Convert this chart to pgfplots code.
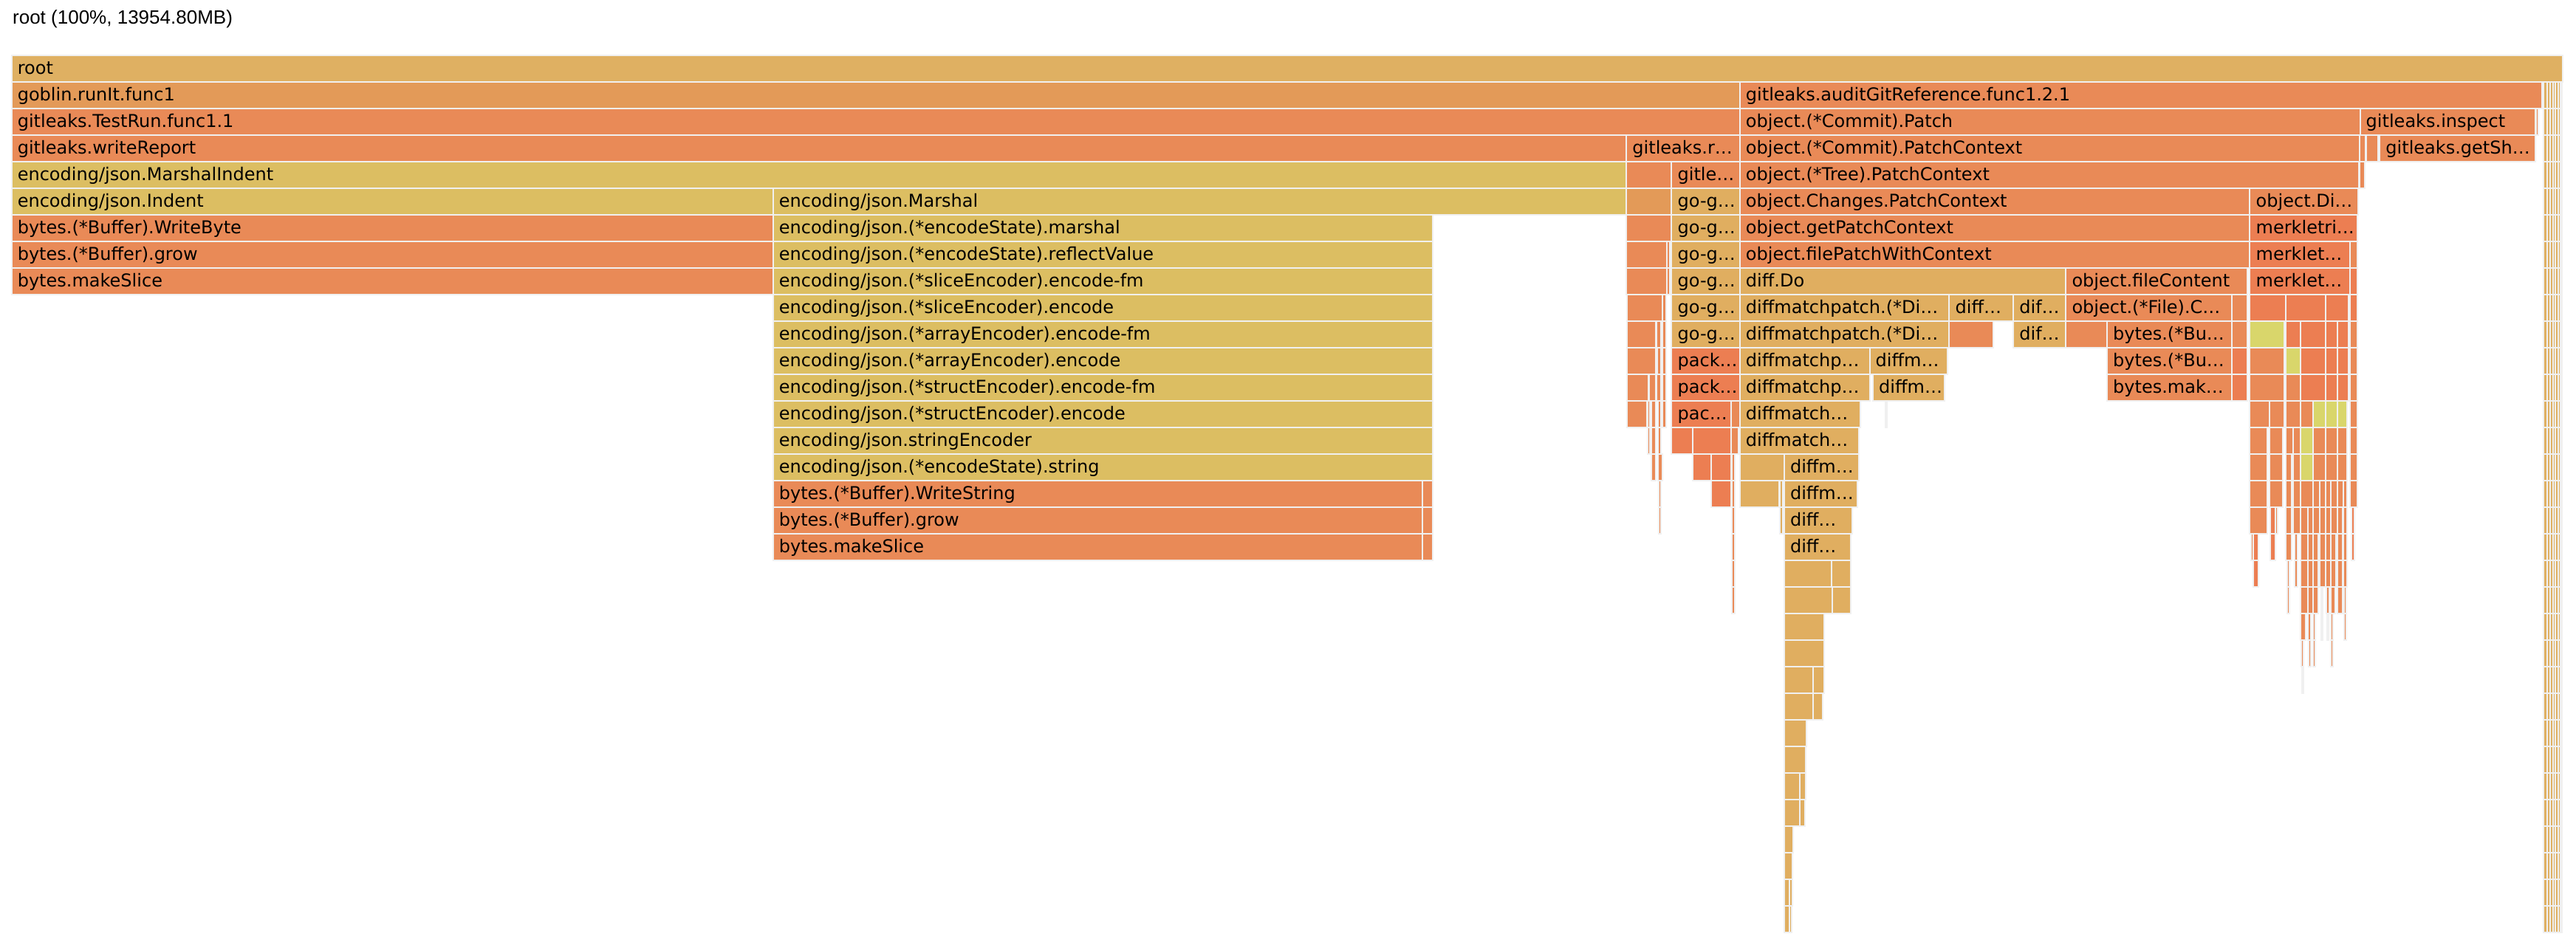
\documentclass[border=0pt]{standalone}
\usepackage{pgfplots}
\pgfplotsset{compat=1.18}
\usepackage{fontspec}
\setmainfont{DejaVu Sans}
\newfontfamily\titlefont{Liberation Sans}

\definecolor{cRoot}{HTML}{DFB062}
\definecolor{cGob}{HTML}{E39A58}
\definecolor{cOr}{HTML}{E98A57}
\definecolor{cJs}{HTML}{DCBE62}
\definecolor{cRed}{HTML}{EC7E52}
\definecolor{cSand}{HTML}{E0AE60}
\definecolor{cLime}{HTML}{D9D66B}
\definecolor{cGap}{HTML}{F0F0F0}

\tikzset{
  fgbox/.style={draw=cGap, line width=0.57pt},
  fglab/.style={anchor=base west, inner sep=0pt, xshift=0.075cm,
    font=\fontsize{6.83pt}{8pt}\selectfont, text=black},
}

% one frame: x0, x1 (screen units), row (0 = root), colour
\newcommand\fb[4]{%
  \edef\tmp{\noexpand\addplot[fgbox,fill=#4] coordinates
    {(#1,#3) (#2,#3) (#2,\the\numexpr#3+1\relax) (#1,\the\numexpr#3+1\relax)} -- cycle;}%
  \tmp}
% frame with its name
\newcommand\fr[5]{%
  \fb{#1}{#2}{#3}{#4}%
  \edef\tmp{\noexpand\node[fglab] at (axis cs:#1,#3.72) {#5};}%
  \tmp}

\begin{document}
\begin{tikzpicture}
\begin{axis}[
    at={(0,0)}, anchor=south west,
    scale only axis, width=34.88cm, height=12.8cm,
    hide axis, clip=false,
    xmin=0, xmax=1568,
    ymin=-2.0833, ymax=33.4722, y dir=reverse,
]
\node[anchor=base west, inner sep=0pt, font=\titlefont\fontsize{7.4pt}{9pt}\selectfont]
  at (axis cs:7.4,-1.19) {root (100\%, 13954.80MB)};

% row 0-4
\fr{7}{1560}{0}{cRoot}{root}
\fr{7}{1059}{1}{cGob}{goblin.runIt.func1}
\fr{1059}{1547.5}{1}{cOr}{gitleaks.auditGitReference.func1.2.1}
\fr{7}{1059}{2}{cOr}{gitleaks.TestRun.func1.1}
\fr{1059}{1436.5}{2}{cOr}{object.(*Commit).Patch}
\fr{1436.5}{1543.3}{2}{cOr}{gitleaks.inspect}
\fb{1543.5}{1545.2}{2}{cOr}
\fr{7}{990}{3}{cOr}{gitleaks.writeReport}
\fr{990}{1059}{3}{cOr}{gitleaks.r…}
\fr{1059}{1436.3}{3}{cOr}{object.(*Commit).PatchContext}
\fb{1436.3}{1439.8}{3}{cOr}
\fb{1440.2}{1447.5}{3}{cOr}
\fr{1448.5}{1543.3}{3}{cOr}{gitleaks.getSh…}
\fr{7}{990}{4}{cJs}{encoding/json.MarshalIndent}
\fb{990}{1017.5}{4}{cOr}
\fr{1017.5}{1059}{4}{cOr}{gitle…}
\fr{1059}{1436}{4}{cOr}{object.(*Tree).PatchContext}
\fb{1436.3}{1439.5}{4}{cOr}

% row 5-8
\fr{7}{470.5}{5}{cJs}{encoding/json.Indent}
\fr{470.5}{990}{5}{cJs}{encoding/json.Marshal}
\fb{990}{1017.5}{5}{cGob}
\fr{1017.5}{1059}{5}{cSand}{go-g…}
\fr{1059}{1369.5}{5}{cOr}{object.Changes.PatchContext}
\fr{1369.5}{1435.3}{5}{cOr}{object.Di…}
\fr{7}{470.5}{6}{cOr}{bytes.(*Buffer).WriteByte}
\fr{470.5}{872}{6}{cJs}{encoding/json.(*encodeState).marshal}
\fb{990}{1017.5}{6}{cOr}
\fr{1017.5}{1059}{6}{cSand}{go-g…}
\fr{1059}{1369.5}{6}{cOr}{object.getPatchContext}
\fr{1369.5}{1435}{6}{cRed}{merkletri…}
\fr{7}{470.5}{7}{cOr}{bytes.(*Buffer).grow}
\fr{470.5}{872}{7}{cJs}{encoding/json.(*encodeState).reflectValue}
\fb{990}{1014.5}{7}{cOr}
\fb{1014.5}{1016.5}{7}{cOr}
\fr{1017.5}{1059}{7}{cSand}{go-g…}
\fr{1059}{1369.5}{7}{cOr}{object.filePatchWithContext}
\fr{1369.5}{1430.5}{7}{cRed}{merklet…}
\fb{1430.5}{1435}{7}{cOr}
\fr{7}{470.5}{8}{cOr}{bytes.makeSlice}
\fr{470.5}{872}{8}{cJs}{encoding/json.(*sliceEncoder).encode-fm}
\fb{990}{1014.5}{8}{cOr}
\fb{1014.5}{1016.5}{8}{cOr}
\fr{1017.5}{1059}{8}{cSand}{go-g…}
\fr{1059}{1257.5}{8}{cSand}{diff.Do}
\fr{1257.5}{1368}{8}{cOr}{object.fileContent}
\fr{1369.5}{1430.5}{8}{cRed}{merklet…}
\fb{1430.5}{1435}{8}{cRed}

% row 9-13
\fr{470.5}{872}{9}{cJs}{encoding/json.(*sliceEncoder).encode}
\fb{990.5}{1011.7}{9}{cOr}
\fb{1012}{1014}{9}{cOr}
\fr{1017.5}{1059}{9}{cSand}{go-g…}
\fr{1059}{1186.5}{9}{cSand}{diffmatchpatch.(*Di…}
\fr{1186.5}{1225.5}{9}{cSand}{diff…}
\fr{1225.5}{1257.5}{9}{cSand}{dif…}
\fr{1257.5}{1358.5}{9}{cOr}{object.(*File).C…}
\fb{1358.5}{1368}{9}{cOr}
\fb{1369.5}{1391.2}{9}{cRed}
\fb{1391.2}{1415.7}{9}{cRed}
\fb{1415.7}{1429.7}{9}{cRed}
\fb{1430.5}{1435}{9}{cRed}

\fr{470.5}{872}{10}{cJs}{encoding/json.(*arrayEncoder).encode-fm}
\fb{990.5}{1008}{10}{cOr}
\fb{1008.5}{1011}{10}{cOr}
\fb{1012}{1014}{10}{cOr}
\fr{1017.5}{1059}{10}{cSand}{go-g…}
\fr{1059}{1186.5}{10}{cSand}{diffmatchpatch.(*Di…}
\fb{1186.5}{1213.5}{10}{cOr}
\fr{1225.5}{1257.5}{10}{cSand}{dif…}
\fb{1257.5}{1282.5}{10}{cOr}
\fr{1282.5}{1358.5}{10}{cOr}{bytes.(*Bu…}
\fb{1358.5}{1368}{10}{cOr}
\fb{1369.5}{1390.5}{10}{cLime}
\fb{1391.2}{1400.3}{10}{cRed}
\fb{1400.3}{1415.7}{10}{cRed}
\fb{1415.7}{1422.8}{10}{cRed}
\fb{1422.8}{1429.7}{10}{cRed}
\fb{1430.5}{1435}{10}{cOr}

\fr{470.5}{872}{11}{cJs}{encoding/json.(*arrayEncoder).encode}
\fb{990.5}{1008}{11}{cOr}
\fb{1008.8}{1011}{11}{cOr}
\fb{1012}{1014}{11}{cOr}
\fr{1017.5}{1059}{11}{cRed}{pack…}
\fr{1059}{1138}{11}{cSand}{diffmatchp…}
\fr{1138}{1185.5}{11}{cSand}{diffm…}
\fr{1282.5}{1358.5}{11}{cOr}{bytes.(*Bu…}
\fb{1358.5}{1368}{11}{cRed}
\fb{1369.5}{1390.5}{11}{cOr}
\fb{1391.2}{1400.3}{11}{cLime}
\fb{1400.3}{1415.7}{11}{cRed}
\fb{1415.7}{1422.8}{11}{cRed}
\fb{1422.8}{1429.7}{11}{cRed}
\fb{1430.5}{1435}{11}{cOr}

\fr{470.5}{872}{12}{cJs}{encoding/json.(*structEncoder).encode-fm}
\fb{990.5}{1003.5}{12}{cOr}
\fb{1004}{1008}{12}{cOr}
\fb{1008.5}{1011}{12}{cOr}
\fb{1012}{1014}{12}{cOr}
\fr{1017.5}{1059}{12}{cRed}{pack…}
\fr{1059}{1138}{12}{cSand}{diffmatchp…}
\fr{1140}{1183.5}{12}{cSand}{diffm…}
\fr{1282.5}{1358.5}{12}{cOr}{bytes.mak…}
\fb{1358.5}{1368}{12}{cRed}
\fb{1369.5}{1390.5}{12}{cOr}
\fb{1391.2}{1400.3}{12}{cOr}
\fb{1400.3}{1415.7}{12}{cRed}
\fb{1415.7}{1422.8}{12}{cRed}
\fb{1422.8}{1429.7}{12}{cRed}
\fb{1430.5}{1435}{12}{cOr}

\fr{470.5}{872}{13}{cJs}{encoding/json.(*structEncoder).encode}
\fb{990.5}{1002.3}{13}{cOr}
\fb{1002.8}{1004.2}{13}{cOr}
\fb{1005}{1008}{13}{cOr}
\fb{1009}{1011}{13}{cOr}
\fb{1012}{1014}{13}{cOr}
\fr{1017.5}{1053.5}{13}{cRed}{pac…}
\fb{1053.5}{1059}{13}{cOr}
\fr{1059}{1132.3}{13}{cSand}{diffmatch…}
\fb{1147.5}{1148.7}{13}{cSand}
\fb{1369.5}{1381.6}{13}{cOr}
\fb{1381.6}{1390.5}{13}{cOr}
\fb{1391.2}{1400.3}{13}{cOr}
\fb{1400.3}{1407.8}{13}{cOr}
\fb{1407.8}{1415.7}{13}{cLime}
\fb{1415.7}{1422.8}{13}{cLime}
\fb{1422.8}{1428.8}{13}{cLime}
\fb{1430.5}{1435}{13}{cOr}

% row 14-18
\fr{470.5}{872}{14}{cJs}{encoding/json.stringEncoder}
\fb{1002.8}{1004.2}{14}{cOr}
\fb{1005}{1008}{14}{cOr}
\fb{1009}{1011}{14}{cOr}
\fb{1017.5}{1030.3}{14}{cRed}
\fb{1030.3}{1053.5}{14}{cRed}
\fb{1053.8}{1058}{14}{cOr}
\fr{1059}{1131.5}{14}{cSand}{diffmatch…}
\fb{1369.5}{1380}{14}{cOr}
\fb{1381.6}{1389.7}{14}{cOr}
\fb{1391.2}{1396}{14}{cOr}
\fb{1396}{1400.3}{14}{cOr}
\fb{1400.3}{1407.8}{14}{cLime}
\fb{1407.8}{1415.7}{14}{cOr}
\fb{1415.7}{1422.8}{14}{cOr}
\fb{1422.8}{1428.8}{14}{cOr}
\fb{1430.5}{1435}{14}{cOr}

\fr{470.5}{872}{15}{cJs}{encoding/json.(*encodeState).string}
\fb{1005}{1008}{15}{cOr}
\fb{1009}{1011.7}{15}{cOr}
\fb{1030.3}{1041.7}{15}{cRed}
\fb{1041.7}{1053.5}{15}{cRed}
\fb{1054}{1056}{15}{cOr}
\fb{1059}{1086}{15}{cSand}
\fr{1086}{1131.5}{15}{cSand}{diffm…}
\fb{1369.5}{1380}{15}{cOr}
\fb{1381.6}{1389.7}{15}{cOr}
\fb{1391.2}{1395}{15}{cOr}
\fb{1396}{1400.3}{15}{cOr}
\fb{1400.3}{1407.8}{15}{cLime}
\fb{1407.8}{1415.7}{15}{cOr}
\fb{1415.7}{1422.8}{15}{cOr}
\fb{1422.8}{1428.8}{15}{cOr}
\fb{1430.5}{1435}{15}{cOr}

\fr{470.5}{866}{16}{cOr}{bytes.(*Buffer).WriteString}
\fb{866}{872}{16}{cOr}
\fb{1009.5}{1011}{16}{cOr}
\fb{1041.7}{1053.5}{16}{cRed}
\fb{1054}{1056}{16}{cOr}
\fb{1059}{1083}{16}{cSand}
\fb{1083.5}{1085}{16}{cSand}
\fr{1086}{1130.5}{16}{cSand}{diffm…}
\fb{1369.5}{1380}{16}{cOr}
\fb{1381.6}{1389.7}{16}{cOr}
\fb{1391.2}{1395}{16}{cOr}
\fb{1396}{1400.3}{16}{cOr}
\fb{1400.3}{1407.8}{16}{cOr}
\fb{1407.8}{1412}{16}{cOr}
\fb{1412}{1415.7}{16}{cOr}
\fb{1415.7}{1418.6}{16}{cOr}
\fb{1418.6}{1422.8}{16}{cOr}
\fb{1422.8}{1426.3}{16}{cOr}
\fb{1426.3}{1428.8}{16}{cOr}
\fb{1430.5}{1435}{16}{cOr}

\fr{470.5}{866}{17}{cOr}{bytes.(*Buffer).grow}
\fb{866}{872}{17}{cOr}
\fb{1009.5}{1011}{17}{cOr}
\fb{1054}{1056}{17}{cOr}
\fb{1083.5}{1085}{17}{cSand}
\fr{1086}{1127.5}{17}{cSand}{diff…}
\fb{1369.5}{1380}{17}{cOr}
\fb{1382}{1385}{17}{cRed}
\fb{1385}{1386.5}{17}{cOr}
\fb{1391.2}{1395}{17}{cOr}
\fb{1396}{1400.3}{17}{cOr}
\fb{1400.3}{1404.8}{17}{cOr}
\fb{1404.8}{1407.8}{17}{cOr}
\fb{1407.8}{1412}{17}{cOr}
\fb{1412}{1415.7}{17}{cOr}
\fb{1415.7}{1418.6}{17}{cOr}
\fb{1418.6}{1422.8}{17}{cOr}
\fb{1422.8}{1425.7}{17}{cOr}
\fb{1426.3}{1428.8}{17}{cOr}
\fb{1431.5}{1433.3}{17}{cRed}

\fr{470.5}{866}{18}{cOr}{bytes.makeSlice}
\fb{866}{872}{18}{cOr}
\fb{1054}{1056}{18}{cOr}
\fr{1086}{1126.5}{18}{cSand}{diff…}
\fb{1370.3}{1371.7}{18}{cOr}
\fb{1371.7}{1374.5}{18}{cRed}
\fb{1382}{1385}{18}{cRed}
\fb{1391.2}{1395}{18}{cOr}
\fb{1396.6}{1398.7}{18}{cOr}
\fb{1400.3}{1404.8}{18}{cOr}
\fb{1404.8}{1407.8}{18}{cOr}
\fb{1407.8}{1411}{18}{cOr}
\fb{1412}{1415.7}{18}{cOr}
\fb{1415.7}{1418.6}{18}{cOr}
\fb{1418.6}{1422}{18}{cOr}
\fb{1422.8}{1425.7}{18}{cOr}
\fb{1426.3}{1428.8}{18}{cOr}
\fb{1431.5}{1433.3}{18}{cRed}

% row 19-23
\fb{1054}{1056}{19}{cOr}
\fb{1086}{1115}{19}{cSand}
\fb{1115}{1126.7}{19}{cSand}
\fb{1371.7}{1374.5}{19}{cRed}
\fb{1392}{1393.7}{19}{cOr}
\fb{1396.6}{1398.7}{19}{cOr}
\fb{1400.3}{1404.8}{19}{cOr}
\fb{1404.8}{1407.8}{19}{cOr}
\fb{1407.8}{1411}{19}{cOr}
\fb{1412}{1415.7}{19}{cOr}
\fb{1415.7}{1418.6}{19}{cOr}
\fb{1418.6}{1422}{19}{cOr}
\fb{1422.8}{1425.7}{19}{cOr}
\fb{1426.3}{1428.8}{19}{cOr}

\fb{1054}{1056}{20}{cOr}
\fb{1086}{1115.5}{20}{cSand}
\fb{1115.5}{1126.5}{20}{cSand}
\fb{1392}{1393.7}{20}{cOr}
\fb{1400.3}{1404.8}{20}{cOr}
\fb{1404.8}{1407.8}{20}{cOr}
\fb{1407.8}{1411}{20}{cOr}
\fb{1412.7}{1413.8}{20}{cOr}
\fb{1415.9}{1417.7}{20}{cOr}
\fb{1418.6}{1421.6}{20}{cOr}
\fb{1422.8}{1425.7}{20}{cOr}
\fb{1426.9}{1428.2}{20}{cOr}

\fb{1086}{1110.5}{21}{cSand}
\fb{1400.3}{1403.5}{21}{cOr}
\fb{1405}{1406.8}{21}{cOr}
\fb{1408}{1409.5}{21}{cOr}
\fb{1412.7}{1413.8}{21}{cOr}
\fb{1416.3}{1417.5}{21}{cOr}
\fb{1418.8}{1420.2}{21}{cOr}
\fb{1426.9}{1428.2}{21}{cOr}

\fb{1086}{1110.3}{22}{cSand}
\fb{1400.9}{1402.2}{22}{cOr}
\fb{1405.1}{1406.4}{22}{cOr}
\fb{1408}{1409.5}{22}{cOr}
\fb{1418.8}{1420.2}{22}{cOr}

\fb{1086}{1103.5}{23}{cSand}
\fb{1103.5}{1110.3}{23}{cSand}
\fb{1401}{1402}{23}{cOr}

% the long diff tail
\fb{1086}{1103.5}{24}{cSand}
\fb{1103.5}{1109.5}{24}{cSand}
\fb{1086}{1099.5}{25}{cSand}
\fb{1086}{1099.3}{26}{cSand}
\fb{1086}{1095.3}{27}{cSand}
\fb{1095.3}{1099.3}{27}{cSand}
\fb{1086}{1095.3}{28}{cSand}
\fb{1095.3}{1098.7}{28}{cSand}
\fb{1086}{1091.3}{29}{cSand}
\fb{1086}{1091}{30}{cSand}
\fb{1086}{1089.2}{31}{cSand}
\fb{1089.2}{1091}{31}{cSand}
\fb{1086}{1089.2}{32}{cSand}
\fb{1089.2}{1090.7}{32}{cSand}

% narrow stacks at the right edge
\pgfplotsforeachungrouped \r in {1,...,32}{%
  \fb{1548}{1550.6}{\r}{cRoot}
  \fb{1550.6}{1552.4}{\r}{cRoot}
  \fb{1552.4}{1554}{\r}{cRoot}
  \fb{1554}{1555.6}{\r}{cRoot}
  \fb{1555.6}{1557.2}{\r}{cRoot}
  \fb{1557.2}{1558.6}{\r}{cRoot}
  \fb{1558.6}{1559.6}{\r}{cRoot}
}
\end{axis}
\pgfresetboundingbox
\useasboundingbox (0,0) rectangle (34.88cm,12.8cm);
\end{tikzpicture}
\end{document}
